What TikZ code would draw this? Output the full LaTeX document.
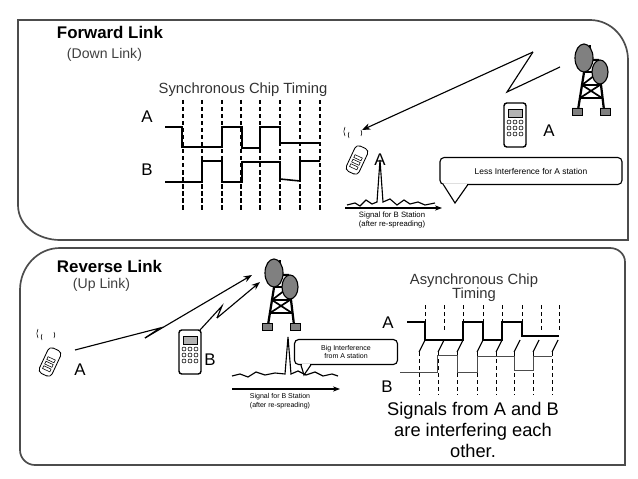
\documentclass[tikz,border=0pt]{standalone}
\usepackage{fontspec}
\setmainfont{Liberation Sans}
\usetikzlibrary{arrows.meta}
\tikzset{
  panel/.style={draw=black!70,line width=1.2pt},
  grid/.style={densely dashed,line width=0.9pt},
  wave/.style={line width=1.1pt},
  thinwave/.style={line width=0.7pt,black!70},
  link/.style={line width=0.8pt,-{Stealth[length=6pt]}},
  lbl/.style={font=\fontsize{12}{12}\selectfont},
  small/.style={font=\fontsize{5}{6}\selectfont,align=center},
  note/.style={draw,rounded corners=3pt,line width=0.8pt,fill=white,font=\fontsize{5}{6}\selectfont,align=center},
  tower/.pic={
    \draw[line width=1.6pt] (-12,30) -- (-4,-20) -- (8,-20) -- (14,30);
    \draw[line width=1.6pt] (-10,18) -- (12,18) (-8,5) -- (10,5) (-6,-8) -- (9,-8);
    \draw[line width=1.2pt] (-10,18) -- (10,5) (-8,5) -- (9,-8) (12,18) -- (-8,5);
    \draw[line width=1.2pt] (0,-20) -- (0,-35);
    \draw[fill=gray,line width=0.8pt] (-6,-22) ellipse (9 and 14);
    \draw[fill=gray,line width=0.8pt] (10,-8) ellipse (8 and 12);
    \draw[fill=gray] (-18,28) rectangle (-8,35) (10,28) rectangle (20,35);
  },
  handset/.pic={
    \draw[rounded corners=2pt,line width=1pt,fill=white] (-11,-22) rectangle (11,22);
    \draw[fill=gray!60] (-7,-16) rectangle (7,-8);
    \foreach \i in {0,1,2} \foreach \j in {0,1,2}
      \draw (-6+\i*6,-3+\j*6) circle (2);
  },
  tiltphone/.pic={
    \begin{scope}[rotate=-25]
    \draw[rounded corners=3pt,line width=0.6pt] (-7,-14) rectangle (7,14);
    \foreach \j in {0,1,2} \draw (-4,-4+\j*5) rectangle (4,-1+\j*5);
    \end{scope}
    \draw (-8,-22) arc (150:210:6) (-12,-24) arc (150:210:9) (4,-24) arc (30:-30:6);
  }
}
\begin{document}
\begin{tikzpicture}[x=0.025cm,y=-0.025cm]
\useasboundingbox (0,0) rectangle (638,479);
% panels
\draw[panel] (18,20) -- (590,20) to[out=0,in=90] (628,60) -- (628,240) -- (60,240) to[out=180,in=-90] (18,205) -- cycle;
\draw[panel] (60,248) -- (610,248) to[out=0,in=90] (625,262) -- (625,465) -- (35,465) to[out=180,in=-90] (20,450) -- (20,290) to[out=90,in=180] cycle;
% forward link
\node[anchor=west,font=\bfseries\fontsize{12}{12}\selectfont] (fwd) at (52,32) {Forward Link};
\node[anchor=west,font=\fontsize{10}{10}\selectfont,black!75] (down) at (62,55) {(Down Link)};
\node[font=\fontsize{10.5}{11}\selectfont,black!80] (sync) at (243,90) {Synchronous Chip Timing};
\node[lbl] (sa) at (147,117) {A};
\node[lbl] (sb) at (147,170) {B};
\foreach \x in {183,202,222,241,260,280,300,320}
  \draw[grid] (\x,100) -- (\x,212);
\draw[wave] (165,127) -- (182,127) -- (182,147) -- (222,147) -- (222,127) -- (242,127) -- (242,148) -- (260,148) -- (260,127) -- (280,127) -- (280,143) -- (320,143);
\draw[wave] (165,182) -- (202,182) -- (202,161) -- (222,161) -- (222,182) -- (242,182) -- (242,162) -- (280,162) -- (280,179) -- (300,181) -- (300,161) -- (320,161);
% tower and phones (forward)
\pic (ftower) at (590,80) {tower};
\pic (fphone) at (515,125) {handset};
\node[lbl] (fpa) at (549,131) {A};
\pic (fphoneb) at (357,160) {tiltphone};
\node[lbl] (fpb) at (380,160) {A};
\coordinate (fz1) at (560,67);
\coordinate (fz2) at (507,92);
\coordinate (fz3) at (533,52);
\coordinate (fend) at (362,130);
\draw[line width=0.8pt] (fz1) -- (fz2) -- (fz3);
\draw[link] (fz3) -- (fend);
% spectrum forward
\draw[line width=0.9pt,-{Stealth[length=5pt]}] (345,208) -- (442,208);
\draw[line width=0.8pt] (347,205) -- (355,203) -- (360,206) -- (366,200) -- (372,204) -- (377,202) -- (380,160) -- (383,202) -- (390,199) -- (397,205) -- (404,200) -- (410,204) -- (418,202) -- (425,205) -- (435,203);
\node[note,minimum width=4.55cm,minimum height=0.675cm,font=\fontsize{6}{7}\selectfont] (less) at (531,171) {Less Interference for A station};
\coordinate (lesstip) at (455,203);
\draw[line width=0.8pt,fill=white] ([xshift=3pt]less.south west) -- (lesstip) -- ([xshift=20pt]less.south west);
\draw[white,line width=1pt] ([xshift=3.6pt,yshift=0.4pt]less.south west) -- ([xshift=19.4pt,yshift=0.4pt]less.south west);
\node[small,font=\fontsize{5.5}{7}\selectfont] (fsig) at (392,220) {Signal for B Station\\(after re-spreading)};
% reverse link
\node[anchor=west,font=\bfseries\fontsize{12}{12}\selectfont] (rev) at (52,266) {Reverse Link};
\node[anchor=west,font=\fontsize{10}{10}\selectfont,black!75] (up) at (68,285) {(Up Link)};
\pic (rtower) at (280,295) {tower};
\pic (rphonea) at (50,362) {tiltphone};
\node[lbl] (rpa) at (80,370) {A};
\pic (rphoneb) at (190,352) {handset};
\node[lbl] (rpb) at (210,360) {B};
\coordinate (ra) at (75,350);
\coordinate (ra1) at (160,328);
\coordinate (ra2) at (145,338);
\coordinate (rta) at (252,275);
\coordinate (rb) at (200,330);
\coordinate (rb1) at (222,306);
\coordinate (rb2) at (217,318);
\coordinate (rtb) at (260,282);
\draw[line width=0.8pt] (ra) -- (ra1) -- (ra2);
\draw[link] (ra2) -- (rta);
\draw[line width=0.8pt] (rb) -- (rb1) -- (rb2);
\draw[link] (rb2) -- (rtb);
% spectrum reverse
\draw[line width=0.9pt,-{Stealth[length=5pt]}] (232,389) -- (340,389);
\draw[line width=0.8pt] (232,376) -- (240,374) -- (248,377) -- (256,372) -- (265,375) -- (275,373) -- (285,374) -- (288,337) -- (291,374) -- (298,371) -- (306,375) -- (315,372) -- (323,376) -- (332,374) -- (338,376);
\node[note,minimum width=2.575cm,minimum height=0.625cm] (big) at (346,352) {Big Interference\\from A station};
\coordinate (bigtip) at (304,375);
\draw[line width=0.8pt,fill=white] ([xshift=5pt]big.south west) -- (bigtip) -- ([xshift=12pt]big.south west);
\draw[white,line width=1pt] ([xshift=5.6pt,yshift=0.4pt]big.south west) -- ([xshift=11.4pt,yshift=0.4pt]big.south west);
\node[small] (rsig) at (280,401) {Signal for B Station\\(after re-spreading)};
% asynchronous
\node[font=\fontsize{10.5}{11}\selectfont,black!80,align=center] (async) at (474,288) {Asynchronous Chip\\[-1pt]Timing};
\node[lbl] (aa) at (388,323) {A};
\node[lbl] (ab) at (387,387) {B};
\foreach \x in {425,444,463,483,502,522,541,559}
  \draw[grid,line width=0.7pt] (\x,305) -- (\x,333);
\foreach \x in {419,438,457,477,496,514,533,552}
  \draw[grid,line width=0.7pt] (\x,352) -- (\x,395);
\draw[wave] (407,322) -- (425,322) -- (425,340) -- (463,340) -- (463,322) -- (483,322) -- (483,340) -- (502,340) -- (502,322) -- (522,322) -- (522,336) -- (559,336);
\draw[thinwave] (400,372) -- (437,372) -- (437,355) -- (457,355) -- (457,372) -- (477,372) -- (477,356) -- (514,356) -- (514,370) -- (533,370) -- (533,356) -- (552,356);
\foreach \x in {419,438,457,477,496,514,533,552}
  \draw[line width=0.8pt] (\x,352) -- (\x+6,340);
\node[font=\fontsize{13}{15}\selectfont,align=center] (sig) at (473,430) {Signals from A and B\\are interfering each\\other.};
\end{tikzpicture}
\end{document}
